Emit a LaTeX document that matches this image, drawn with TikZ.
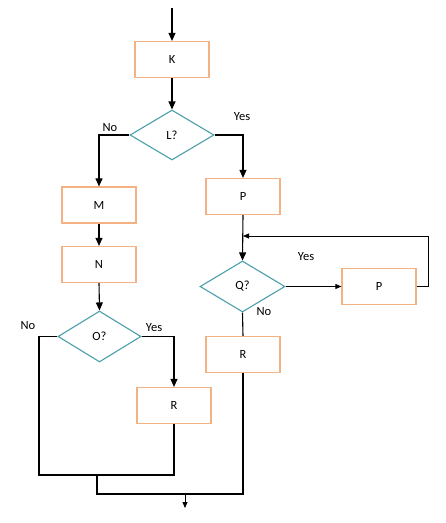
\documentclass[tikz,border=0pt]{standalone}
\usepackage{fontspec}
\setmainfont{Carlito}
\usetikzlibrary{shapes.geometric,arrows.meta}
\definecolor{boxor}{HTML}{F4B183}
\definecolor{diateal}{HTML}{4A9FAA}
\begin{document}
\begin{tikzpicture}[x=1pt,y=-1pt,
  every node/.style={font=\fontsize{12.5}{14}\selectfont},
  procbox/.style={draw=boxor,line width=1.2pt,minimum width=74pt,minimum height=36pt,inner sep=0pt},
  decide/.style={draw=diateal,line width=1.1pt,diamond,aspect=1.66,minimum width=84pt,minimum height=50pt,inner sep=0pt},
  mainline/.style={line width=1.1pt,black},
  bigarrow/.style={mainline,-{Triangle[length=8pt,width=7pt]}},
  thinline/.style={line width=0.8pt,black},
  smallarrow/.style={thinline,-{Triangle[length=6pt,width=5pt]}},
  lbl/.style={inner sep=0pt}]
\useasboundingbox (0,0) rectangle (446,523);
\coordinate (start) at (172,8);
\node[procbox] (K) at (172,59.5) {K};
\node[decide] (L) at (172,135) {L?};
\node[procbox] (M) at (99,205) {M};
\node[procbox] (N) at (99,264.5) {N};
\node[decide,minimum width=83pt,minimum height=51pt] (O) at (99.5,336.5) {O?};
\node[procbox] (R1) at (174,405.5) {R};
\node[procbox] (P1) at (243,196.5) {P};
\node[decide,minimum width=85pt,minimum height=51pt] (Q) at (242.5,286.5) {Q?};
\node[procbox] (P2) at (379,286.5) {P};
\node[procbox] (R2) at (243,354.5) {R};
\coordinate (loopin) at (243,236);
\coordinate (loopcorner) at (428,236);
\coordinate (merge1) at (97,475);
\coordinate (merge2) at (185,494);
\coordinate (endpt) at (185,508);

\node[lbl] at (110,128) {No};
\node[lbl] at (242,117) {Yes};
\node[lbl] at (28,326) {No};
\node[lbl] at (154,328) {Yes};
\node[lbl] at (306,257) {Yes};
\node[lbl] at (264,312) {No};

\draw[bigarrow] (start) -- (K.north);
\draw[bigarrow] (K.south) -- (L.north);
\draw[bigarrow] (L.west) -| (M.north);
\draw[bigarrow] (L.east) -| (P1.north);
\draw[bigarrow] (M.south) -- (N.north);
\draw[bigarrow] (N.south) -- (O.north);
\draw[bigarrow] (O.east) -| (R1.north);
\draw[mainline] (O.west) -- (39,336.5) |- (merge1) -| (R1.south);
\draw[mainline] (merge1) |- (merge2) -| (R2.south);
\draw[bigarrow] (P1.south) -- (Q.north);
\draw[smallarrow] (Q.east) -- (P2.west);
\draw[thinline] (P2.east) -| (loopcorner);
\draw[smallarrow] (loopcorner) -- (loopin);
\draw[mainline] (Q.south) -- (R2.north);
\draw[smallarrow] (merge2) -- (endpt);
\end{tikzpicture}
\end{document}
